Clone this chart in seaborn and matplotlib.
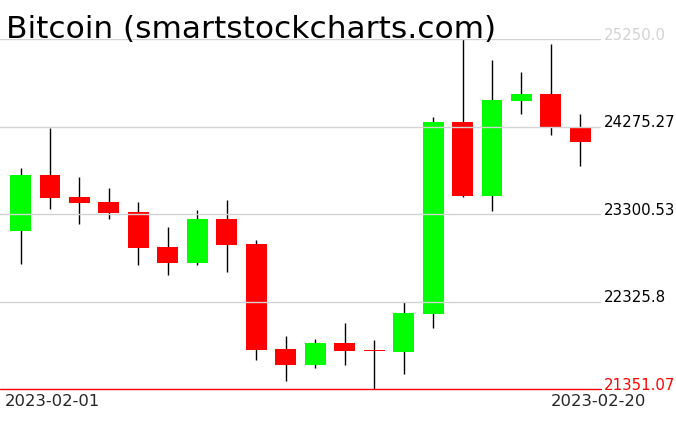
import matplotlib
matplotlib.use("Agg")
import matplotlib.pyplot as plt
import seaborn as sns
import numpy as np

# daily candles, Bitcoin 2023-02-01 .. 2023-02-20
dates = ['2023-02-%02d' % d for d in range(1, 21)]
opens = [23115, 23735, 23490, 23434, 23326, 22933, 22755, 23245, 22966, 21797,
         21622, 21864, 21786, 21767, 22190, 24326, 23505, 24563, 24637, 24259]
highs = [23813, 24259, 23713, 23590, 23434, 23159, 23345, 23457, 23011, 21942,
         21908, 22086, 21897, 22320, 24381, 25250, 25016, 24882, 25194, 24415]
lows = [22744, 23356, 23189, 23248, 22736, 22621, 22736, 22658, 21678, 21444,
        21588, 21622, 21351.07, 21518, 22034, 23493, 23331, 24418, 24181, 23839]
closes = [23735, 23479, 23423, 23312, 22925, 22755, 23245, 22955, 21786, 21622,
          21864, 21778, 21771, 22198, 24326, 23505, 24571, 24637, 24270, 24106]

sns.set_theme(style='white')
plt.rcParams['font.family'] = ['DejaVu Sans']

fig = plt.figure(figsize=(6.76, 4.31), dpi=100)
ax = fig.add_axes([0, 41 / 431, 601 / 676, 350 / 431])

x = np.arange(len(dates))
o = np.array(opens)
c = np.array(closes)
up = c >= o
cols = ['#00ff00' if u else '#ff0000' for u in up]
bottoms = np.minimum(o, c)
heights = np.maximum(np.abs(c - o), 12)

ax.vlines(x, lows, highs, color='black', lw=1.0, zorder=1)
ax.bar(x, heights, bottom=bottoms, width=0.71, color=cols, linewidth=0, zorder=2)

ymin, ymax = min(lows), max(highs)
ticks = np.linspace(ymin, ymax, 5)
ax.set_xlim(-0.696, 19.70)
ax.set_ylim(ymin, ymax)
for t in ticks[1:]:
    ax.axhline(t, color='#d3d3d3', lw=1.0, zorder=3)
ax.axhline(ymin, color='#ff0000', lw=1.0, zorder=3, clip_on=False)

tick_labels = [str(round(float(t), 2)) for t in ticks]
tick_cols = ['#ff0000', 'black', 'black', 'black', '#d3d3d3']
for t, lab, col in zip(ticks, tick_labels, tick_cols):
    ax.text(19.80, t, lab, color=col, fontsize=10.8, va='baseline', ha='left', clip_on=False)

dy = (ymax - ymin) / 350
ax.text(-0.53, ymin - 16 * dy, dates[0], fontsize=11.8, va='baseline', ha='left', clip_on=False)
ax.text(21.22, ymin - 16 * dy, dates[-1], fontsize=11.8, va='baseline', ha='right', clip_on=False)

fig.text(6 / 676, (431 - 38) / 431, 'Bitcoin (smartstockcharts.com)', fontsize=22.5,
         va='baseline', ha='left', color='black')

ax.set_xticks([])
ax.set_yticks([])
for s in ax.spines.values():
    s.set_visible(False)

fig.savefig('out.png', dpi=100, facecolor='white')
